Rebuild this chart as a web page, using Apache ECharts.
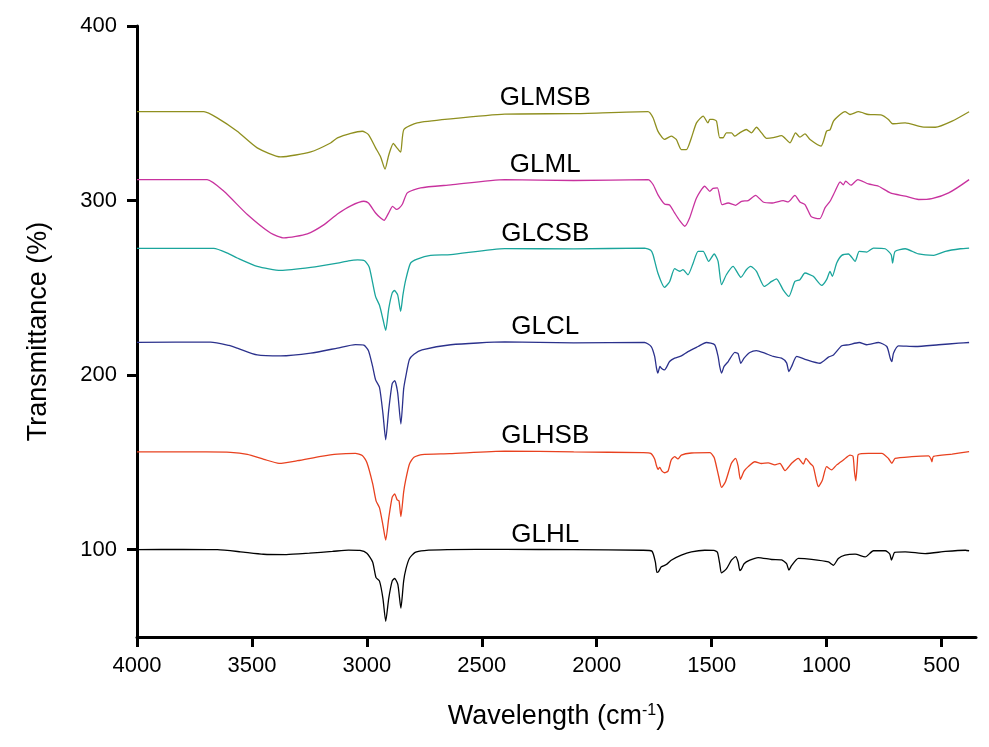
<!DOCTYPE html>
<html>
<head>
<meta charset="utf-8">
<script src="https://cdn.jsdelivr.net/npm/echarts@6/dist/echarts.min.js"></script>
<style>
  html, body { margin: 0; padding: 0; background: #fff; }
  #main { width: 989px; height: 747px; }
</style>
</head>
<body>
<div id="main"></div>
<script>
// FTIR spectra, [wavenumber, transmittance]
var glmsb = [[4000,350.9],[3709,350.9],[3651,347.4],[3564,339.7],[3477,330.2],[3375,325],[3244,327.9],[3158,333],[3128,335.9],[3070,338.5],[3020,339.7],[2993,337.8],[2962,330.2],[2940,325],[2921,318],[2905,326],[2885,332.7],[2868,330],[2853,327.7],[2839,340.7],[2781,344.5],[2635,346.8],[2400,349.5],[2100,349.8],[1777,350.9],[1755,347.4],[1734,339.8],[1705,335],[1676,336.9],[1654,335],[1632,329.2],[1610,329.2],[1588,336],[1566,344.5],[1537,348.4],[1516,344.5],[1508,346.5],[1494,346.5],[1479,345.5],[1465,336],[1450,336],[1436,338.8],[1414,338.8],[1399,336.9],[1378,338.8],[1349,340.7],[1327,338.8],[1305,342],[1283,338.8],[1261,335.6],[1232,336],[1196,337.2],[1159,333.1],[1135,338.8],[1116,336.3],[1094,338.2],[1072,335],[1024,331.2],[1000,339.8],[985,340.5],[970,345.5],[941,349.3],[920,350.9],[898,349.3],[861,350.9],[818,349.3],[760,349],[731,346.5],[713,344],[658,344.5],[585,342.2],[527,342],[454,345.5],[380,350.9]];

var glml = [[4000,312],[3695,312],[3622,305.3],[3520,292],[3419,281.4],[3360,278.6],[3259,280.9],[3186,286.2],[3128,292.3],[3070,297],[3013,299.6],[2993,298.6],[2962,292.9],[2940,290],[2925,288.7],[2905,293],[2888,296.7],[2872,295],[2859,295.8],[2845,298],[2824,304.4],[2766,307.3],[2635,309],[2400,312],[2100,311.5],[1777,312],[1755,309.2],[1734,303.4],[1705,298],[1683,297.5],[1661,292.9],[1639,288.5],[1617,285.3],[1596,290],[1566,301.5],[1530,308.2],[1508,305.3],[1494,307],[1475,307.3],[1455,297.7],[1428,298.6],[1396,297.3],[1370,299.6],[1341,300],[1309,303],[1276,299.2],[1239,298.6],[1189,300],[1167,299.2],[1138,303],[1116,299.2],[1094,297.7],[1068,291],[1050,290],[1029,289.7],[1007,295.8],[985,299.6],[963,305.3],[941,310.7],[927,309],[917,311.1],[894,308.8],[864,312],[818,309.5],[774,308.2],[723,304.4],[658,302.5],[600,300.6],[542,301.1],[469,304.4],[380,312]];

var glcsb = [[4000,272.6],[3666,272.6],[3600,269.5],[3564,267.1],[3477,262.3],[3375,260],[3244,261.7],[3128,264.2],[3080,265.5],[3040,266],[3010,265.5],[2990,262],[2975,253],[2962,245],[2945,240],[2930,232],[2918,225.6],[2905,238],[2890,247],[2880,248.5],[2866,246],[2853,236.5],[2843,246],[2831,254.6],[2810,264.2],[2781,266.5],[2723,268.6],[2635,269],[2400,272.5],[2100,272.3],[1792,272.8],[1765,271.5],[1755,269],[1734,258.5],[1705,250.3],[1683,253.5],[1661,261],[1639,259.5],[1625,260.4],[1603,257.5],[1581,264],[1559,270.9],[1537,270.9],[1513,265.2],[1489,269.4],[1472,265.2],[1457,251.8],[1436,257.5],[1407,262.3],[1373,256],[1349,260.4],[1330,262.3],[1305,259.5],[1271,250.8],[1239,253.7],[1218,255.2],[1189,248.9],[1164,245.1],[1138,253.7],[1116,254.7],[1094,258.5],[1058,256.6],[1021,251.4],[1000,254.7],[985,259.4],[975,256.6],[956,264.2],[934,268.6],[905,269.4],[876,265.2],[858,270.9],[825,270.5],[796,272.8],[745,272.4],[719,269],[713,264.2],[702,270.9],[658,272.4],[600,269.4],[534,268.6],[483,270.9],[418,272.4],[380,272.8]];

var glcl = [[4000,218.8],[3680,218.9],[3600,217],[3564,215.5],[3477,211.6],[3375,211],[3244,212.6],[3128,215.5],[3050,217.5],[3013,217.2],[2993,214],[2975,205],[2962,197.3],[2945,193],[2930,178],[2918,163],[2905,180],[2890,195],[2879,196.9],[2866,190],[2852,172],[2840,192],[2831,199],[2815,209],[2795,212],[2760,214.5],[2635,217.4],[2400,219],[2100,218.5],[1792,218.7],[1763,216.4],[1748,210.7],[1740,204],[1734,201.1],[1725,205],[1719,204],[1705,203],[1683,207.8],[1661,209.7],[1632,211],[1603,213.5],[1559,216.4],[1523,218.7],[1487,217.4],[1472,210.7],[1465,205],[1457,201.1],[1446,205],[1428,207.8],[1399,213],[1385,212.3],[1373,206.8],[1359,209.7],[1334,213],[1305,214.1],[1269,212.6],[1232,210.7],[1196,209.7],[1174,207],[1164,202.1],[1152,205],[1130,210.7],[1094,209.1],[1029,206.8],[992,210.3],[970,211.6],[934,216.8],[905,217.4],[858,218.7],[825,217.4],[774,218.7],[738,216.4],[723,209.7],[716,207.8],[709,212.6],[687,216.8],[614,216.4],[513,217.4],[425,218.3],[380,218.7]];

var glhsb = [[4000,156],[3700,156],[3593,155.8],[3520,154.6],[3448,151.8],[3382,149.5],[3302,151],[3200,153.5],[3128,154.8],[3050,155.2],[3020,154],[3000,150],[2975,138],[2960,128],[2945,124],[2930,114],[2918,105.5],[2905,118],[2890,130],[2879,132],[2868,128.5],[2860,128],[2852,119],[2840,133],[2831,140],[2815,149],[2795,153],[2760,154.5],[2640,155],[2400,156.5],[2100,156],[1800,155.6],[1765,155.2],[1748,152],[1741,148.5],[1733,146],[1726,147.2],[1716,145],[1705,144.1],[1690,145],[1676,151.4],[1661,153.3],[1647,152],[1632,154.2],[1588,155.4],[1508,155.6],[1490,153],[1484,150.4],[1469,141.8],[1457,135.7],[1440,138.9],[1414,149.5],[1396,152.3],[1385,148],[1375,140.3],[1359,145],[1341,147.6],[1312,150.4],[1283,149.4],[1254,149.8],[1225,148.6],[1203,149.5],[1181,145.3],[1152,149.5],[1123,152.3],[1101,149],[1090,152.3],[1072,149.5],[1058,147.6],[1045,140],[1036,136.1],[1018,140],[1000,147.6],[978,145.7],[956,148.6],[927,151.4],[898,154.2],[885,153.5],[879,145],[873,139.5],[866,150],[862,154.5],[818,155.2],[760,155.2],[731,152.3],[716,149.5],[702,152.3],[629,153.3],[556,153.7],[546,152],[542,150.4],[535,153.5],[454,154.8],[380,156.2]];

var glhl = [[4000,100],[3800,100.2],[3650,100],[3550,98.8],[3450,97.4],[3350,97.2],[3250,98],[3150,99],[3080,99.8],[3030,99.6],[3000,98],[2975,93],[2960,84],[2945,82],[2930,72],[2918,59],[2905,72],[2890,82],[2879,83.5],[2865,80],[2852,66.5],[2840,82],[2830,89],[2815,95],[2790,98.5],[2750,99.5],[2650,100],[2400,100.2],[2100,100],[1800,99.7],[1760,99.2],[1745,93],[1738,87],[1731,87.5],[1719,90.2],[1697,91.5],[1676,94],[1632,96.9],[1588,98.8],[1530,99.7],[1490,99.6],[1475,98.5],[1465,92],[1457,86.7],[1436,89],[1414,94],[1396,96],[1385,93],[1377,88],[1370,89],[1359,92],[1334,94],[1298,95.5],[1239,94.4],[1196,94.2],[1174,92],[1164,88.3],[1152,91],[1123,95],[1065,94.5],[992,93],[970,91.1],[949,95],[920,96.9],[876,97.5],[832,95.9],[796,99.4],[745,99.4],[725,97.5],[718,94],[712,96],[704,98.5],[658,98.8],[571,97.8],[483,99],[396,99.7],[380,99.4]];

var names = ['GLMSB', 'GLML', 'GLCSB', 'GLCL', 'GLHSB', 'GLHL'];
var spectra = [glmsb, glml, glcsb, glcl, glhsb, glhl];
var colors = ['#8f8f1f', '#c8329e', '#1aa59c', '#2b318c', '#e8411f', '#000000'];
var labelWave = 2224;
var labelLevel = [350, 312, 272.5, 219, 156.5, 100];

var xTicks = [4000, 3500, 3000, 2500, 2000, 1500, 1000, 500];
var yTicks = [100, 200, 300, 400];

var font = 'Liberation Sans, Arial, sans-serif';
var chart = echarts.init(document.getElementById('main'));

var series = names.map(function (n, i) {
    return {
        name: n,
        type: 'line',
        data: spectra[i],
        showSymbol: false,
        smooth: 0.2,
        lineStyle: { color: colors[i], width: 1.3 },
        animation: false,
        markPoint: {
            symbol: 'circle',
            symbolSize: 0,
            animation: false,
            label: {
                show: true,
                position: 'top',
                distance: 2,
                formatter: n,
                color: '#000',
                fontSize: 26,
                fontFamily: font
            },
            data: [{ coord: [labelWave, labelLevel[i]] }]
        }
    };
});

function plain(v) { return String(v); }

var option = {
    backgroundColor: '#ffffff',
    animation: false,
    grid: { left: 137, right: 13, top: 26, bottom: 110 },
    xAxis: {
        type: 'value',
        inverse: true,
        min: 350,
        max: 4000,
        name: 'Wavelength (cm{sup|-1})',
        nameLocation: 'middle',
        nameGap: 66,
        nameTextStyle: {
            fontSize: 27, fontFamily: font, color: '#000',
            rich: { sup: { fontSize: 16, fontFamily: font, verticalAlign: 'top', padding: [0, 0, 12, 0] } }
        },
        axisLine: { lineStyle: { color: '#000', width: 3 } },
        axisTick: { show: true, length: 10, inside: false, customValues: xTicks, lineStyle: { color: '#000', width: 3 } },
        axisLabel: { customValues: xTicks, formatter: plain, margin: 18, fontSize: 22, fontFamily: font, color: '#000' },
        splitLine: { show: false }
    },
    yAxis: {
        type: 'value',
        min: 50,
        max: 400,
        name: 'Transmittance (%)',
        nameLocation: 'middle',
        nameGap: 85,
        nameTextStyle: { fontSize: 27, fontFamily: font, color: '#000' },
        axisLine: { show: true, lineStyle: { color: '#000', width: 3 } },
        axisTick: { show: true, length: 10, customValues: yTicks, lineStyle: { color: '#000', width: 3 } },
        axisLabel: { customValues: yTicks, formatter: plain, margin: 20, fontSize: 22, fontFamily: font, color: '#000' },
        splitLine: { show: false }
    },
    series: series
};

chart.setOption(option);
</script>
</body>
</html>
